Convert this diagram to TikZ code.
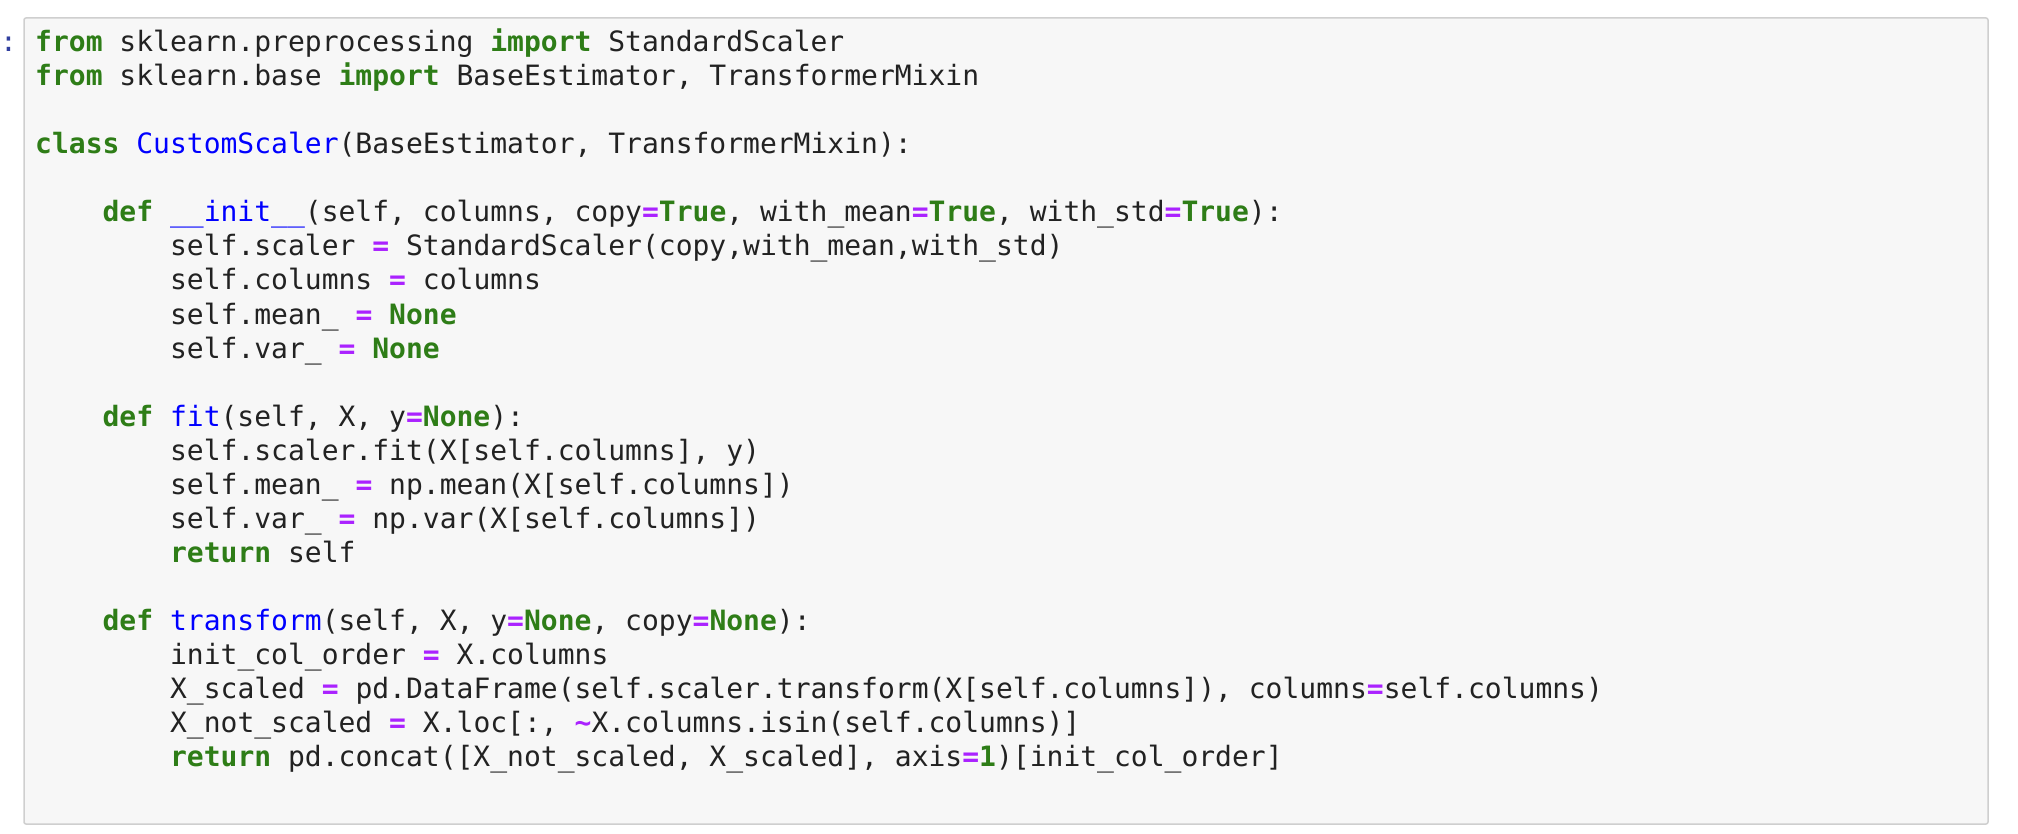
\documentclass[tikz,border=0pt]{standalone}
\usepackage{fontspec}
\setmonofont{DejaVu Sans Mono}
\definecolor{kwc}{HTML}{2E7D17}
\definecolor{opc}{HTML}{AA22FF}
\definecolor{nmc}{HTML}{0000FF}
\definecolor{txc}{HTML}{222222}
\definecolor{bgc}{HTML}{F7F7F7}
\definecolor{bdc}{HTML}{CFCFCF}
\definecolor{prc}{HTML}{303F9F}
\newcommand{\kw}[1]{\textcolor{kwc}{\textbf{#1}}}
\newcommand{\op}[1]{\textcolor{opc}{\textbf{#1}}}
\newcommand{\nm}[1]{\textcolor{nmc}{#1}}
\newcommand{\ind}[1]{\hspace*{#1\dimexpr 16.86pt\relax}}
\begin{document}
\begin{tikzpicture}[x=1pt,y=-1pt,
  code/.style={anchor=west,inner sep=0pt,font=\ttfamily\fontsize{28}{34}\selectfont,text=txc,text height=20pt,text depth=6pt}]
\useasboundingbox (0,0) rectangle (2018,834);
\draw[bdc,fill=bgc,line width=1.5pt,rounded corners=2pt] (24,18) rectangle (1988,824);
\node[code,text=prc] (p) at (0,45) {:};
\node[code] (l0) at (35,45) {\kw{from} sklearn.preprocessing \kw{import} StandardScaler};
\node[code] (l1) at (35,79) {\kw{from} sklearn.base \kw{import} BaseEstimator, TransformerMixin};
\node[code] (l3) at (35,147) {\kw{class} \nm{CustomScaler}(BaseEstimator, TransformerMixin):};
\node[code] (l5) at (35,215) {\ind{4}\kw{def} \nm{\_\_init\_\_}(self, columns, copy\op{=}\kw{True}, with\_mean\op{=}\kw{True}, with\_std\op{=}\kw{True}):};
\node[code] (l6) at (35,249) {\ind{8}self.scaler \op{=} StandardScaler(copy,with\_mean,with\_std)};
\node[code] (l7) at (35,283) {\ind{8}self.columns \op{=} columns};
\node[code] (l8) at (35,317) {\ind{8}self.mean\_ \op{=} \kw{None}};
\node[code] (l9) at (35,351) {\ind{8}self.var\_ \op{=} \kw{None}};
\node[code] (l11) at (35,419) {\ind{4}\kw{def} \nm{fit}(self, X, y\op{=}\kw{None}):};
\node[code] (l12) at (35,453) {\ind{8}self.scaler.fit(X[self.columns], y)};
\node[code] (l13) at (35,487) {\ind{8}self.mean\_ \op{=} np.mean(X[self.columns])};
\node[code] (l14) at (35,521) {\ind{8}self.var\_ \op{=} np.var(X[self.columns])};
\node[code] (l15) at (35,555) {\ind{8}\kw{return} self};
\node[code] (l17) at (35,623) {\ind{4}\kw{def} \nm{transform}(self, X, y\op{=}\kw{None}, copy\op{=}\kw{None}):};
\node[code] (l18) at (35,657) {\ind{8}init\_col\_order \op{=} X.columns};
\node[code] (l19) at (35,691) {\ind{8}X\_scaled \op{=} pd.DataFrame(self.scaler.transform(X[self.columns]), columns\op{=}self.columns)};
\node[code] (l20) at (35,725) {\ind{8}X\_not\_scaled \op{=} X.loc[:, \op{\textasciitilde}X.columns.isin(self.columns)]};
\node[code] (l21) at (35,759) {\ind{8}\kw{return} pd.concat([X\_not\_scaled, X\_scaled], axis\op{=}\kw{1})[init\_col\_order]};
\end{tikzpicture}
\end{document}
